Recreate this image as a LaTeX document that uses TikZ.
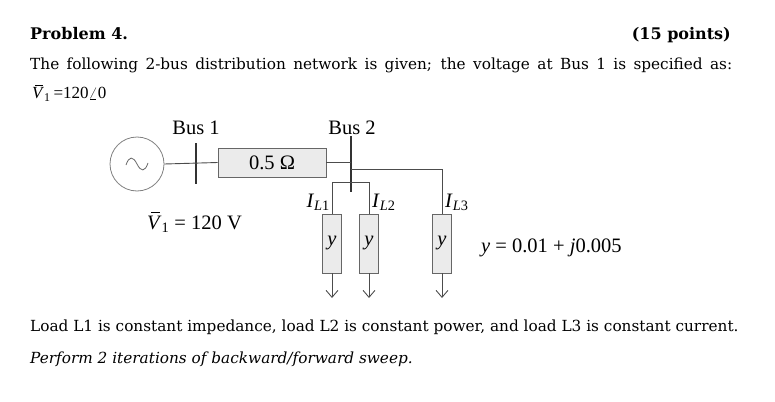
\documentclass[tikz,border=0pt]{standalone}
\usepackage{fontspec}
\setmainfont{Liberation Serif}
\newfontfamily\bodyfont{DejaVu Serif}
\usetikzlibrary{arrows.meta}
\newcommand{\vi}[1]{\textit{#1}}
\newcommand{\ovV}{\makebox[0pt][l]{\raisebox{0.78em}{\hspace{0.18em}\rule{0.45em}{0.05em}}}\textit{V}}
\begin{document}
\begin{tikzpicture}[x=1pt,y=-1pt,
  wire/.style={draw=black!70, line width=0.9pt},
  bar/.style={draw=black!80, line width=1.3pt},
  box/.style={draw=black!60, fill=black!8, line width=0.8pt},
  txt/.style={inner sep=0pt, anchor=base west, font=\bodyfont\fontsize{15.3}{18}\selectfont},
  dg/.style={inner sep=0pt, font=\fontsize{20.5}{24}\selectfont},
  gnd/.style={wire, -{Straight Barb[length=7pt,width=12pt]}}]
\useasboundingbox (0,0) rectangle (775,401);
% text
\node[txt, font=\bodyfont\fontsize{16}{20}\selectfont\bfseries] (t1) at (30,40) {Problem 4.};
\node[txt, anchor=base east, font=\bodyfont\fontsize{16}{20}\selectfont\bfseries] (t2) at (731,40) {(15 points)};
\node[txt] (t3) at (30,70) {\makebox[702pt][s]{The following 2-bus distribution network is given; the voltage at Bus 1 is specified as:}};
\node[txt, font=\fontsize{17}{20}\selectfont] (t4) at (32,99) {\ovV\textsubscript{1}\,=120$\angle$0};
\node[txt] (t5) at (30,331) {Load L1 is constant impedance, load L2 is constant power, and load L3 is constant current.};
\node[txt] (t6) at (30,363) {\itshape Perform 2 iterations of backward/forward sweep.};
% source and buses
\node[circle, draw=black!50, line width=0.8pt, minimum size=54pt, inner sep=0pt] (src) at (137,164) {};
\draw[black!60, line width=0.8pt] (126,165) .. controls (129,156) and (133,156) .. (137,164) .. controls (141,172) and (145,172) .. (148,163);
\coordinate (b1t) at (196,143); \coordinate (b1b) at (196,184);
\coordinate (b2t) at (351,136); \coordinate (b2b) at (351,192);
\draw[bar] (b1t) -- (b1b);
\draw[bar] (b2t) -- (b2b);
\node[box, minimum width=108pt, minimum height=29pt, inner sep=0pt] (r) at (272,162.5) {};
\node[dg] (rl) at (r) {0.5 Ω};
\draw[wire] (src.east) -- (r.west);
\draw[wire] (r.east) -- (351,162.5);
% loads
\foreach \n/\x in {1/332,2/369,3/442}{
  \node[box, minimum width=19pt, minimum height=59pt, inner sep=0pt] (l\n) at (\x,243.5) {};
  \node[dg] at (l\n) {\vi{y}};
  \coordinate (g\n) at (\x,298);
  \draw[gnd] (l\n.south) -- (g\n);
}
\coordinate (j1) at (332,182); \coordinate (j2) at (369,182); \coordinate (j3) at (442,169);
\draw[wire] (l1.north) -- (j1) -- (j2) -- (l2.north);
\draw[wire] (351,169) -- (j3) -- (l3.north);
\node[dg, anchor=base east] at (330,207) {\vi{I}\textsubscript{\vi{L}1}};
\node[dg, anchor=base west] at (372,207) {\vi{I}\textsubscript{\vi{L}2}};
\node[dg, anchor=base west] at (445,207) {\vi{I}\textsubscript{\vi{L}3}};
\node[dg, anchor=base] at (196,134) {Bus 1};
\node[dg, anchor=base] at (352,134) {Bus 2};
\node[dg, anchor=base west] at (147,229) {\ovV\textsubscript{1} = 120 V};
\node[dg, anchor=base west] at (481,252) {\vi{y} = 0.01 + \vi{j}0.005};
\end{tikzpicture}
\end{document}
